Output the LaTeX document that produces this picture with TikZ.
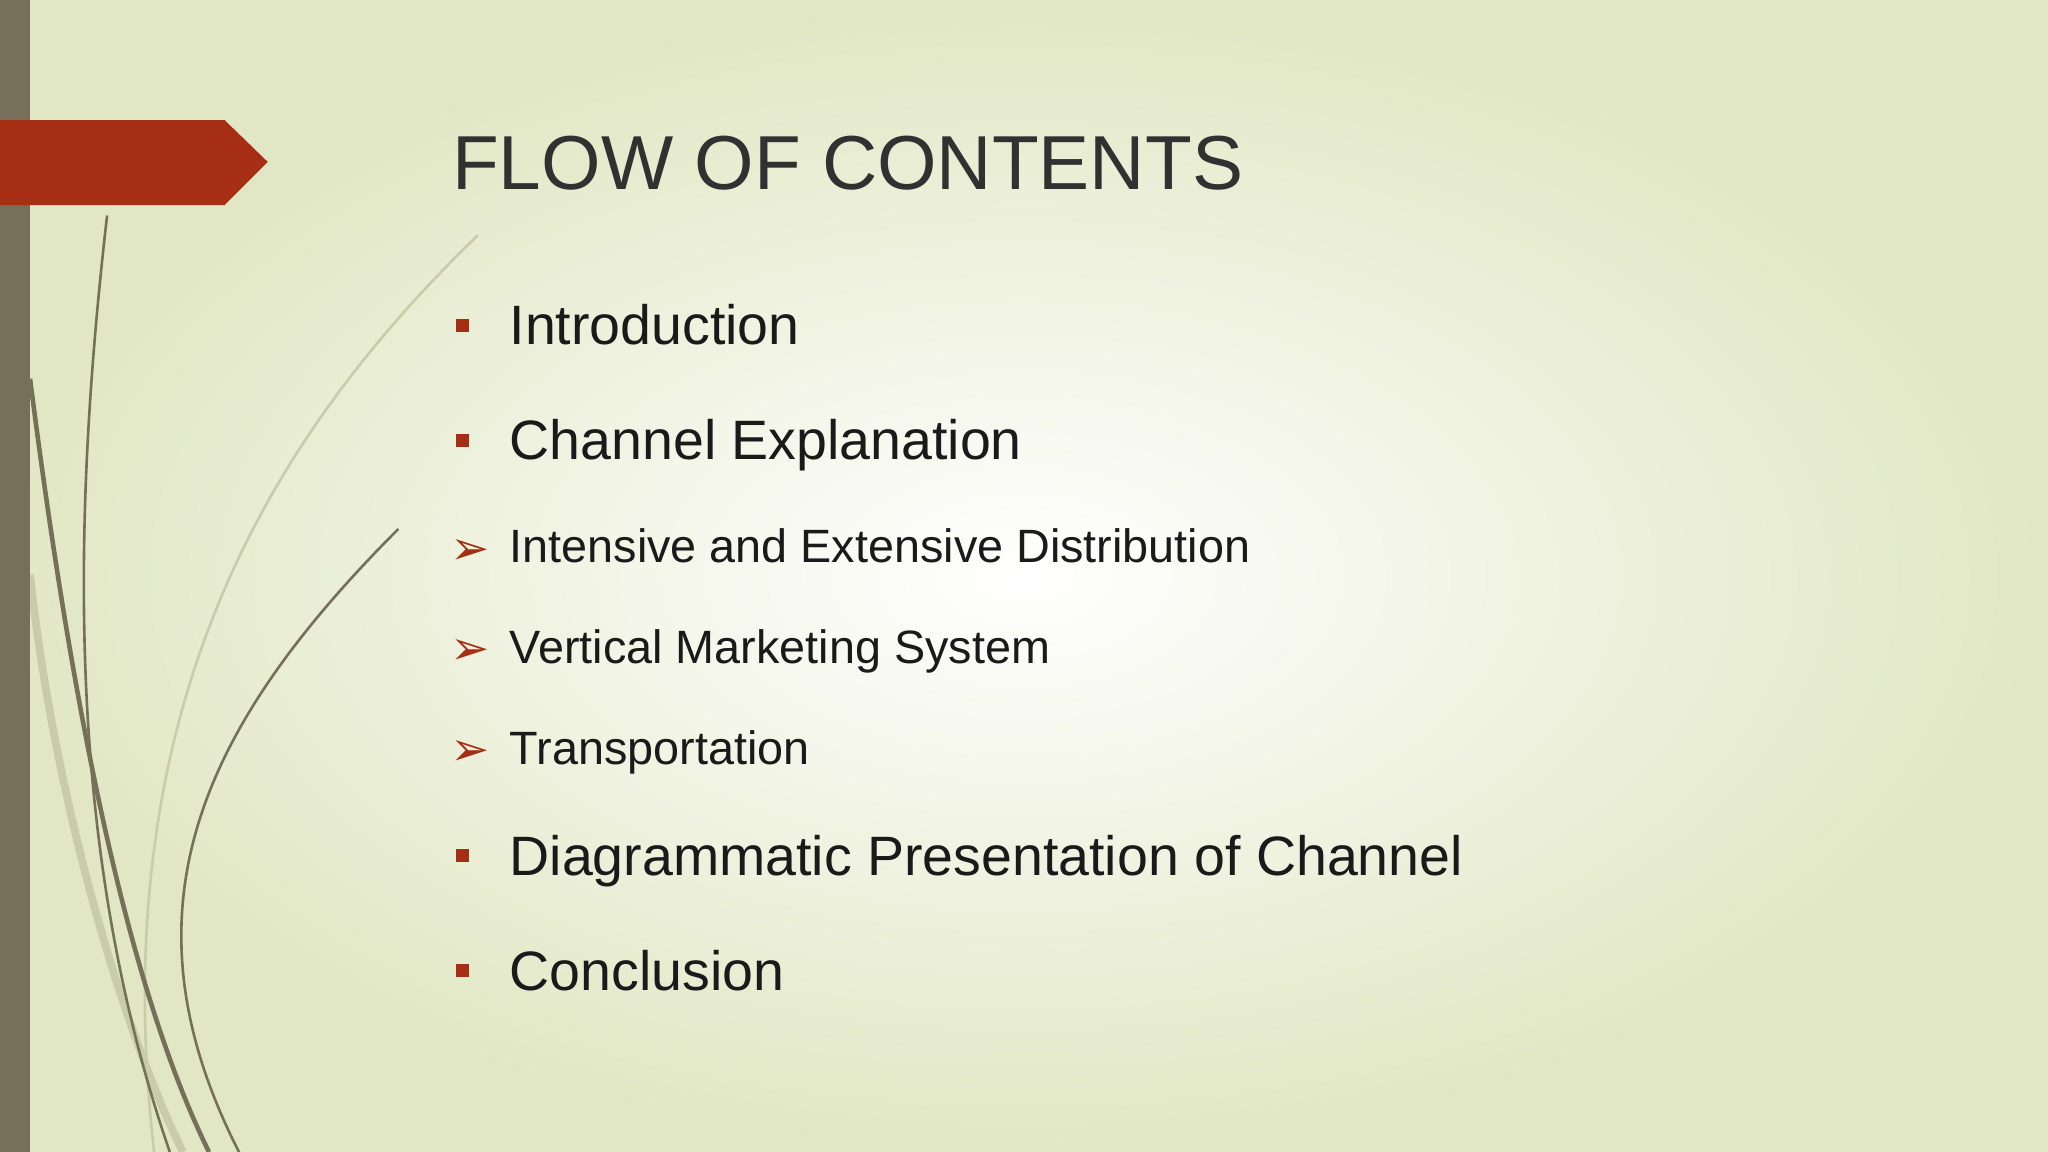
\documentclass[tikz,border=0pt]{standalone}
\usepackage{fontspec}
\setmainfont{Liberation Sans}
\definecolor{bar}{HTML}{76705A}
\definecolor{red}{HTML}{A52E14}
\definecolor{bgedge}{HTML}{E1E7C4}
\definecolor{txt}{HTML}{1A1A1A}
\definecolor{lightc}{HTML}{C9CCAA}
\begin{document}
\begin{tikzpicture}[x=1pt,y=-1pt,
  big/.style={anchor=base west,font=\fontsize{42.5}{48}\selectfont,text=txt,inner sep=0},
  small/.style={anchor=base west,font=\fontsize{35.8}{40}\selectfont,text=txt,inner sep=0},
  sq/.style={fill=red,minimum size=10pt,inner sep=0},
  tri/.style={font=\fontsize{36}{36}\selectfont,text=red,inner sep=0,anchor=base west}]
\useasboundingbox (0,0) rectangle (1568,882);
\fill[bgedge] (0,0) rectangle (1568,882);
\shade[inner color=white,outer color=bgedge] (0,0) rectangle (1568,882);
% curves
\draw[lightc,line width=6pt] (23,440) .. controls (40,600) and (90,780) .. (140,882);
\draw[lightc,line width=2pt] (366,180) .. controls (200,340) and (80,550) .. (118,882);
\draw[bar,line width=2pt] (82,165) .. controls (55,400) and (50,650) .. (130,882);
\draw[bar,line width=3.5pt] (23,290) .. controls (50,500) and (90,740) .. (160,882);
\draw[bar,line width=2pt] (305,405) .. controls (150,560) and (90,700) .. (183,882);
\fill[bar] (0,0) rectangle (23,882);
\fill[red] (0,92) -- (172,92) -- (205,124) -- (172,157) -- (0,157) -- cycle;
\node[anchor=base west,font=\fontsize{58.6}{66}\selectfont,text=txt!90!white,inner sep=0] (title) at (346,145) {FLOW OF CONTENTS};
\node[sq] (b1) at (354,249) {}; \node[big] (t1) at (390,264) {Introduction};
\node[sq] (b2) at (354,337) {}; \node[big] (t2) at (390,352) {Channel Explanation};
\node[tri] (b3) at (345,432) {\fontspec{DejaVu Sans}➢}; \node[small] (t3) at (390,431) {Intensive and Extensive Distribution};
\node[tri] (b4) at (345,509) {\fontspec{DejaVu Sans}➢}; \node[small] (t4) at (390,508) {Vertical Marketing System};
\node[tri] (b5) at (345,586) {\fontspec{DejaVu Sans}➢}; \node[small] (t5) at (390,585) {Transportation};
\node[sq] (b6) at (354,655) {}; \node[big] (t6) at (390,670) {Diagrammatic Presentation of Channel};
\node[sq] (b7) at (354,743) {}; \node[big] (t7) at (390,758) {Conclusion};
\end{tikzpicture}
\end{document}
